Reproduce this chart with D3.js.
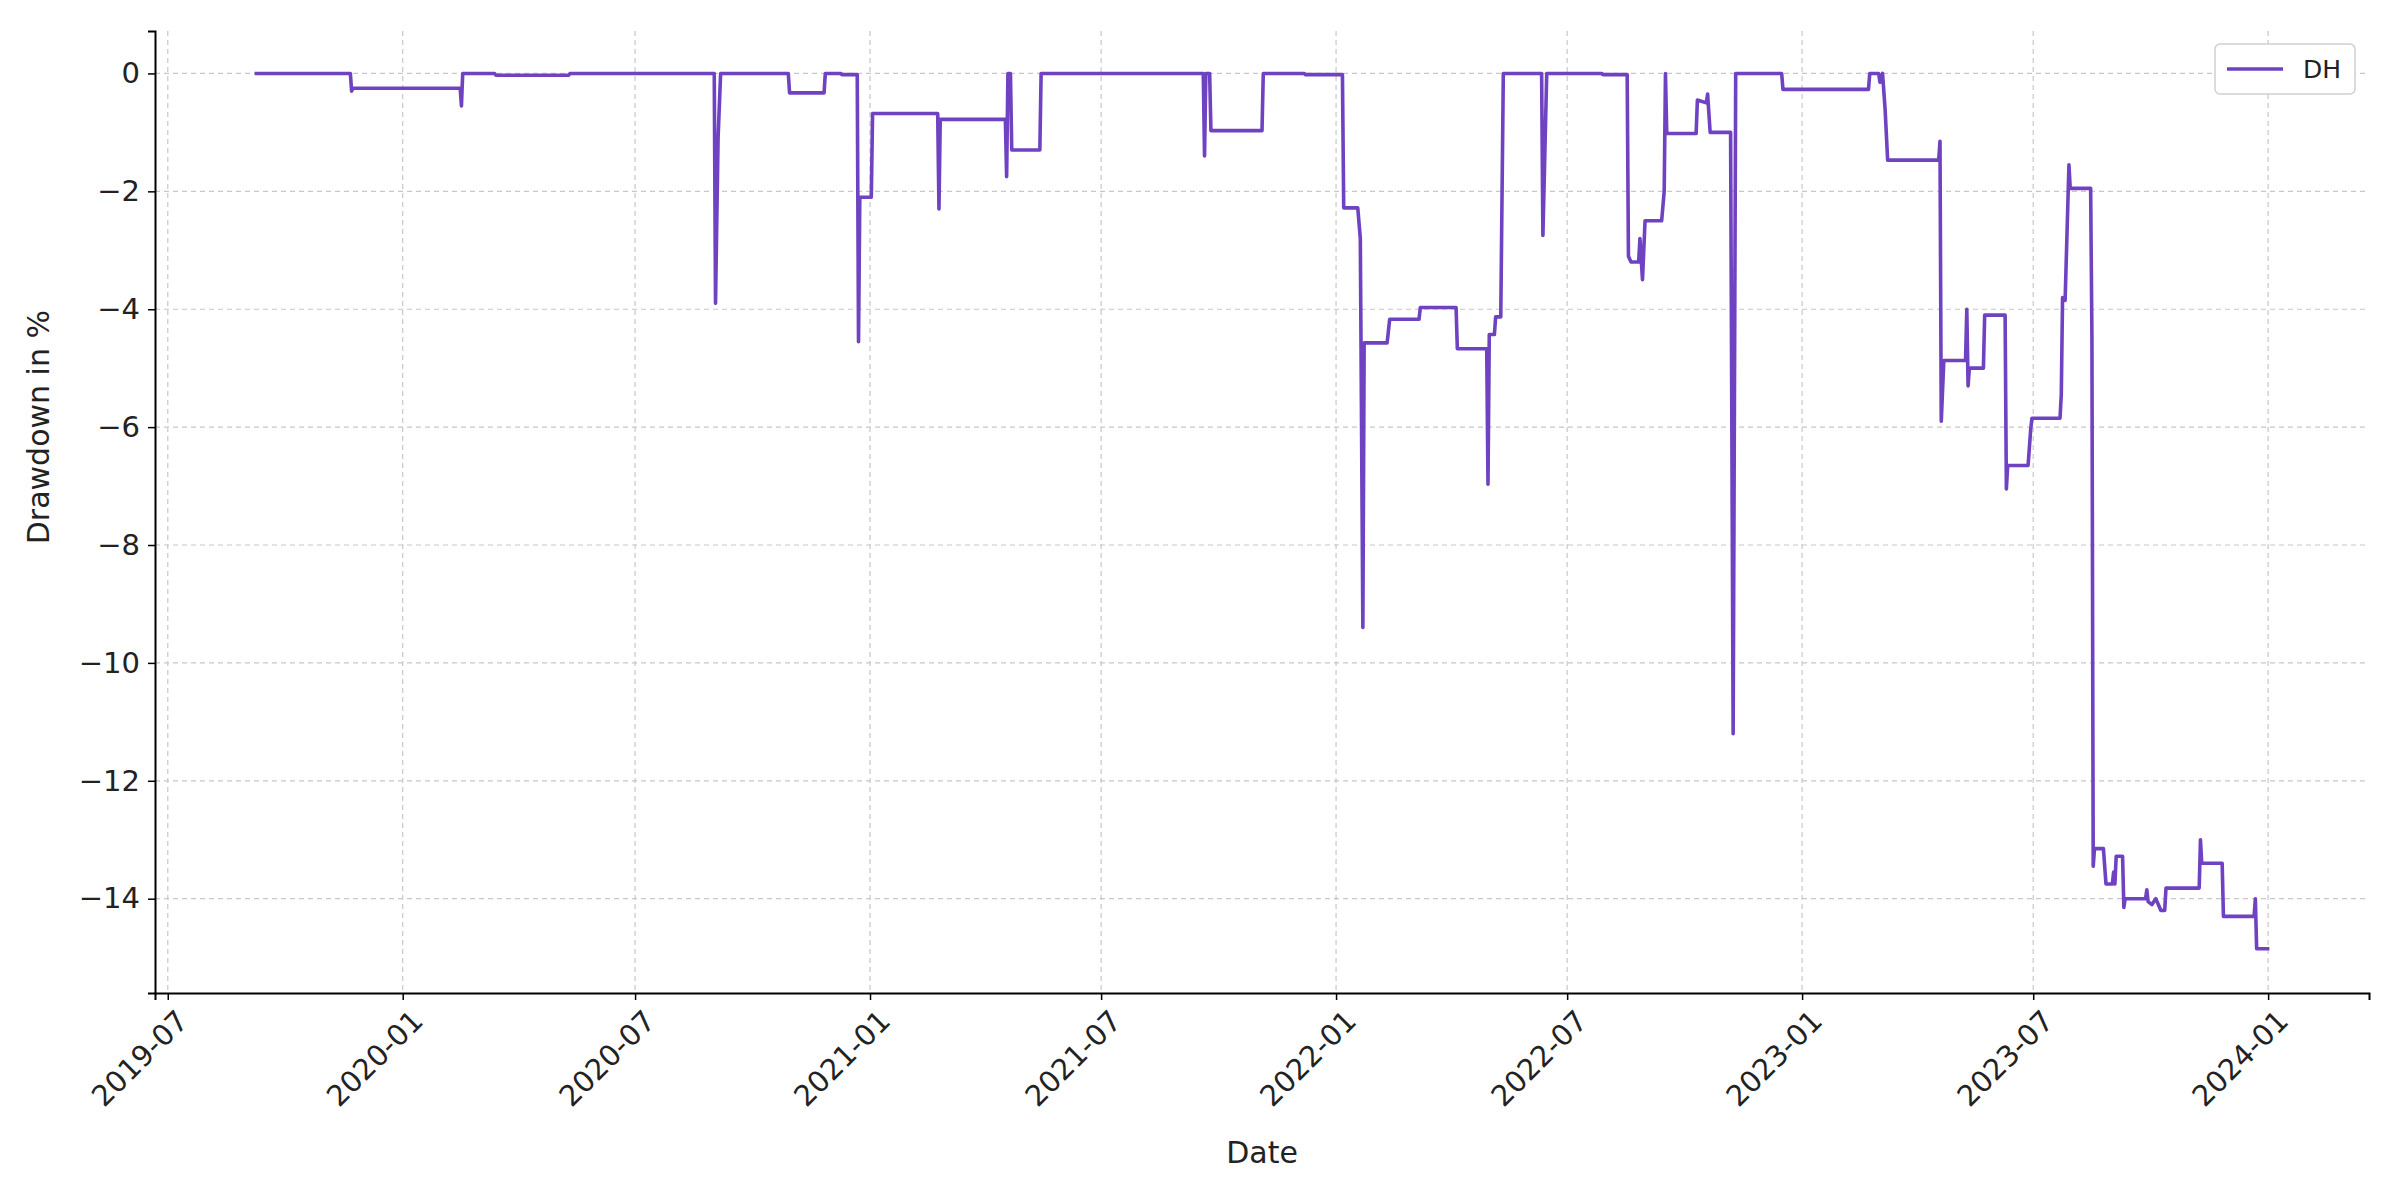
<!DOCTYPE html>
<html>
<head>
<meta charset="utf-8">
<script src="https://cdn.jsdelivr.net/npm/d3@7"></script>
<style>
  body { margin: 0; background: #fff; }
  text { font-family: "DejaVu Sans", sans-serif; fill: #222; }
</style>
</head>
<body>
<div id="chart"></div>
<script>
// Drawdown series (date, % drawdown)
var dates = ["2019-09-07","2019-11-21","2019-11-22","2019-11-23","2020-02-15","2020-02-16","2020-02-17","2020-03-13","2020-03-14","2020-05-10","2020-05-11",
  "2020-09-01","2020-09-02","2020-09-04","2020-09-06","2020-10-29","2020-10-30","2020-11-26","2020-11-27","2020-12-09","2020-12-10","2020-12-22","2020-12-23","2020-12-24",
  "2021-01-02","2021-01-03","2021-02-23","2021-02-24","2021-02-25","2021-04-17","2021-04-18","2021-04-19","2021-04-21","2021-04-22","2021-05-14","2021-05-15",
  "2021-09-19","2021-09-20","2021-09-21","2021-09-24","2021-09-25","2021-11-04","2021-11-05","2021-12-07","2021-12-08","2022-01-06","2022-01-07","2022-01-18","2022-01-20",
  "2022-01-22","2022-01-23","2022-02-10","2022-02-12","2022-03-07","2022-03-08","2022-04-05","2022-04-06","2022-04-29","2022-04-30","2022-05-01","2022-05-05","2022-05-06",
  "2022-05-10","2022-05-12","2022-06-11","2022-06-12","2022-06-15","2022-07-28","2022-07-29","2022-08-17","2022-08-18","2022-08-20","2022-08-26","2022-08-27","2022-08-29",
  "2022-08-31","2022-09-13","2022-09-15","2022-09-16","2022-09-17","2022-10-10","2022-10-11","2022-10-18","2022-10-19","2022-10-21","2022-11-06","2022-11-08","2022-11-10",
  "2022-12-16","2022-12-17","2023-02-22","2023-02-23","2023-03-02","2023-03-03","2023-03-05","2023-03-07","2023-03-09","2023-04-18","2023-04-19","2023-04-20","2023-04-22",
  "2023-05-09","2023-05-10","2023-05-11","2023-05-12","2023-05-23","2023-05-24","2023-06-09","2023-06-10","2023-06-11","2023-06-27","2023-06-29","2023-06-30","2023-07-22",
  "2023-07-23","2023-07-24","2023-07-26","2023-07-29","2023-07-30","2023-08-15","2023-08-16","2023-08-17","2023-08-18","2023-08-25","2023-08-27","2023-09-01","2023-09-02",
  "2023-09-03","2023-09-04","2023-09-09","2023-09-10","2023-09-11","2023-09-27","2023-09-28","2023-09-29","2023-10-02","2023-10-05","2023-10-07","2023-10-09","2023-10-12",
  "2023-10-13","2023-11-08","2023-11-09","2023-11-10","2023-11-26","2023-11-27","2023-12-21","2023-12-22","2023-12-23","2024-01-02"];
var values = [0,0,-0.3,-0.25,-0.25,-0.55,0,0,-0.03,-0.03,0,
  0,-3.9,-1.1,0,0,-0.33,-0.33,0,0,-0.02,-0.02,-4.55,-2.1,
  -2.1,-0.68,-0.68,-2.3,-0.78,-0.78,-1.75,0,0,-1.3,-1.3,0,
  0,-1.4,0,0,-0.97,-0.97,0,0,-0.02,-0.02,-2.28,-2.28,-2.8,
  -9.4,-4.57,-4.57,-4.17,-4.17,-3.97,-3.97,-4.67,-4.67,-6.97,-4.43,-4.43,-4.13,
  -4.13,0,0,-2.75,0,0,-0.02,-0.02,-3.1,-3.2,-3.2,-2.8,-3.5,
  -2.5,-2.5,-2.0,0,-1.02,-1.02,-0.45,-0.5,-0.35,-1.0,-1.0,-11.2,0,
  0,-0.27,-0.27,0,0,-0.15,0,-0.6,-1.47,-1.47,-1.15,-5.9,-4.87,
  -4.87,-4.0,-5.3,-5.0,-5.0,-4.1,-4.1,-7.05,-6.65,-6.65,-6.05,-5.85,-5.85,
  -5.45,-3.8,-3.85,-1.55,-1.95,-1.95,-4.5,-13.45,-13.15,-13.15,-13.75,-13.75,-13.55,
  -13.75,-13.28,-13.28,-14.15,-14.0,-14.0,-13.85,-14.05,-14.1,-14.0,-14.1,-14.2,-14.2,
  -13.82,-13.82,-13.0,-13.4,-13.4,-14.3,-14.3,-14.0,-14.85,-14.85];
var yTicks = [0, -2, -4, -6, -8, -10, -12, -14];
var xTickDates = ["2019-07-01","2020-01-01","2020-07-01","2021-01-01","2021-07-01","2022-01-01","2022-07-01","2023-01-01","2023-07-01","2024-01-01"];
var seriesName = "DH";

var parse = d3.timeParse("%Y-%m-%d");
var data = dates.map(function(d, i) { return {date: parse(d), value: values[i]}; });

var margin = {top: 31, right: 31, bottom: 207, left: 155},
    width = 2400 - margin.left - margin.right,
    height = 1200 - margin.top - margin.bottom;

var svg = d3.select("#chart").append("svg")
    .attr("width", 2400).attr("height", 1200)
  .append("g")
    .attr("transform", "translate(" + margin.left + "," + margin.top + ")");

var x = d3.scaleTime().domain([parse("2019-06-21"), parse("2024-03-20")]).range([0, width]);
var y = d3.scaleLinear().domain([-15.6, 0.72]).range([height, 0]);

// grid
svg.append("g").selectAll("line").data(xTickDates).enter().append("line")
  .attr("x1", function(d) { return x(parse(d)); }).attr("x2", function(d) { return x(parse(d)); })
  .attr("y1", 0).attr("y2", height)
  .attr("stroke", "#c8c8c8").attr("stroke-width", 1.2).attr("stroke-dasharray", "5,4");
svg.append("g").selectAll("line").data(yTicks).enter().append("line")
  .attr("x1", 0).attr("x2", width)
  .attr("y1", function(d) { return y(d); }).attr("y2", function(d) { return y(d); })
  .attr("stroke", "#c8c8c8").attr("stroke-width", 1.2).attr("stroke-dasharray", "5,4");

// axes
var fmt = d3.timeFormat("%Y-%m");
var xAxis = svg.append("g").attr("transform", "translate(0," + height + ")")
  .call(d3.axisBottom(x).tickValues(xTickDates.map(parse)).tickFormat(fmt).tickSize(7).tickPadding(6));
xAxis.selectAll("text")
  .style("font-size", "29px")
  .attr("text-anchor", "end")
  .attr("dx", "-0.2em").attr("dy", "0.8em")
  .attr("transform", "rotate(-45)");
var yAxis = svg.append("g")
  .call(d3.axisLeft(y).tickValues(yTicks).tickFormat(function(d) { return d < 0 ? "\u2212" + Math.abs(d) : d; }).tickSize(7).tickPadding(8));
yAxis.selectAll("text").style("font-size", "29px");
[xAxis, yAxis].forEach(function(a) {
  a.select(".domain").attr("stroke", "#000").attr("stroke-width", 2);
  a.selectAll(".tick line").attr("stroke", "#000").attr("stroke-width", 1.5);
});

// labels
svg.append("text").attr("x", width / 2).attr("y", height + 170)
  .attr("text-anchor", "middle").style("font-size", "30px").text("Date");
svg.append("text").attr("transform", "rotate(-90)")
  .attr("x", -y(-6)).attr("y", -106)
  .attr("text-anchor", "middle").style("font-size", "30px").text("Drawdown in %");

// line
var line = d3.line().x(function(d) { return x(d.date); }).y(function(d) { return y(d.value); });
svg.append("path").datum(data)
  .attr("fill", "none").attr("stroke", "#6f42c1").attr("stroke-width", 3.6)
  .attr("stroke-linejoin", "round").attr("d", line);

// legend
var lg = svg.append("g").attr("transform", "translate(" + (width - 154) + ",13)");
lg.append("rect").attr("width", 140).attr("height", 50).attr("rx", 5)
  .attr("fill", "#fff").attr("stroke", "#d0d0d0").attr("stroke-width", 1.5);
lg.append("line").attr("x1", 12).attr("x2", 68).attr("y1", 25).attr("y2", 25)
  .attr("stroke", "#6f42c1").attr("stroke-width", 3.6);
lg.append("text").attr("x", 88).attr("y", 34).style("font-size", "25px").text(seriesName);
</script>
</body>
</html>
